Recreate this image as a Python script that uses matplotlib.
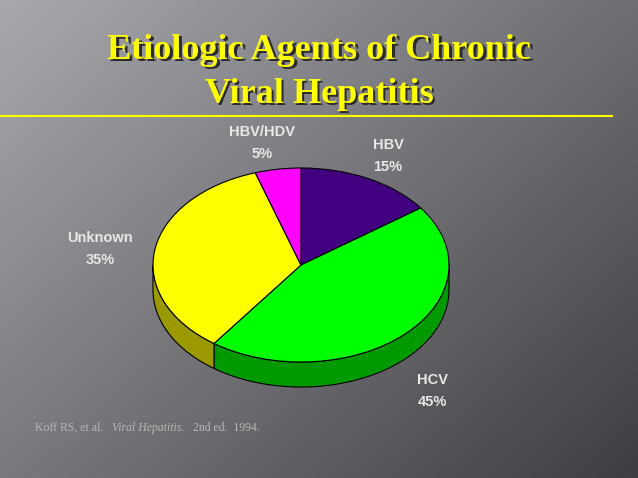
import numpy as np
import matplotlib
matplotlib.use("Agg")
import matplotlib.pyplot as plt
from matplotlib.patches import Polygon

labels = ["HBV", "HCV", "Unknown", "HBV/HDV"]
values = [15, 45, 35, 5]
top_colors = ["#400080", "#00ff00", "#ffff00", "#ff00ff"]
side_colors = ["#28004f", "#009a00", "#9a9a00", "#9a009a"]
title_lines = ["Etiologic Agents of Chronic", "Viral Hepatitis"]

W, H = 638, 478
fig = plt.figure(figsize=(6.38, 4.78), dpi=100)
bg = fig.add_axes([0, 0, 1, 1])
yy, xx = np.mgrid[0:1:200j, 0:1:200j]
g = 1 - (0.55 * xx + 0.45 * yy)
img = np.dstack([0.24 + 0.42 * g, 0.24 + 0.42 * g, 0.26 + 0.42 * g])
bg.imshow(img, extent=[0, W, H, 0], aspect="auto")
bg.set_xlim(0, W); bg.set_ylim(H, 0); bg.axis("off")

for i, t in enumerate(title_lines):
    y = 50 + i * 44
    bg.text(321.5, y + 2.5, t, color="#2a2a2a", fontsize=26, fontweight="bold",
            family="Liberation Serif", ha="center", va="center")
    bg.text(319, y, t, color="#ffff00", fontsize=26, fontweight="bold",
            family="Liberation Serif", ha="center", va="center")
bg.plot([0, 612], [116, 116], color="#ffff00", lw=1.5)

cx, cy, rx, ry, depth = 301, 265, 148, 97, 25
ax = fig.add_axes([(cx - rx) / W, (H - cy - ry) / H, 2 * rx / W, 2 * ry / H])
d = 2 * depth / (2 * ry)

total = sum(values)
start = 90.0
for v, tc, sc in zip(values, top_colors, side_colors):
    end = start - 360 * v / total
    a0, a1 = min(start, end), max(start, end)
    for off in (0, -360, 360):
        lo, hi = max(a0 + off, -180), min(a1 + off, 0)
        if hi > lo:
            th = np.radians(np.linspace(lo, hi, 60))
            top = np.column_stack([np.cos(th), np.sin(th)])
            bot = top[::-1] - [0, d]
            ax.add_patch(Polygon(np.vstack([top, bot]), closed=True, fc=sc,
                                 ec="black", lw=0.8, clip_on=False, zorder=1))
    start = end

ax.pie(values, colors=top_colors, startangle=90, counterclock=False,
       radius=1, center=(0, 0), frame=True,
       wedgeprops=dict(edgecolor="black", linewidth=0.8, zorder=2))
ax.set_aspect("auto")
ax.set_xlim(-1, 1); ax.set_ylim(-1, 1); ax.axis("off")

lab_pos = {"HBV": (388, 145), "HCV": (432, 380), "Unknown": (100, 238), "HBV/HDV": (262, 132)}
for lab, v in zip(labels, values):
    x, y = lab_pos[lab]
    bg.text(x, y, lab, color="#e8e8e8", fontsize=10.5, family="Liberation Sans",
            fontweight="bold", ha="center", va="center")
    bg.text(x, y + 22, f"{v}%", color="#e8e8e8", fontsize=10.5, family="Liberation Sans",
            fontweight="bold", ha="center", va="center")

bg.text(35, 428, "Koff RS, et al.  ", color="#b8b8b8", fontsize=8.5, family="Liberation Serif",
        va="center")
bg.text(112, 428, "Viral Hepatitis.", color="#b8b8b8", fontsize=8.5, family="Liberation Serif",
        style="italic", va="center")
bg.text(187, 428, "  2nd ed.  1994.", color="#b8b8b8", fontsize=8.5, family="Liberation Serif",
        va="center")

fig.savefig("out.png", dpi=100)
